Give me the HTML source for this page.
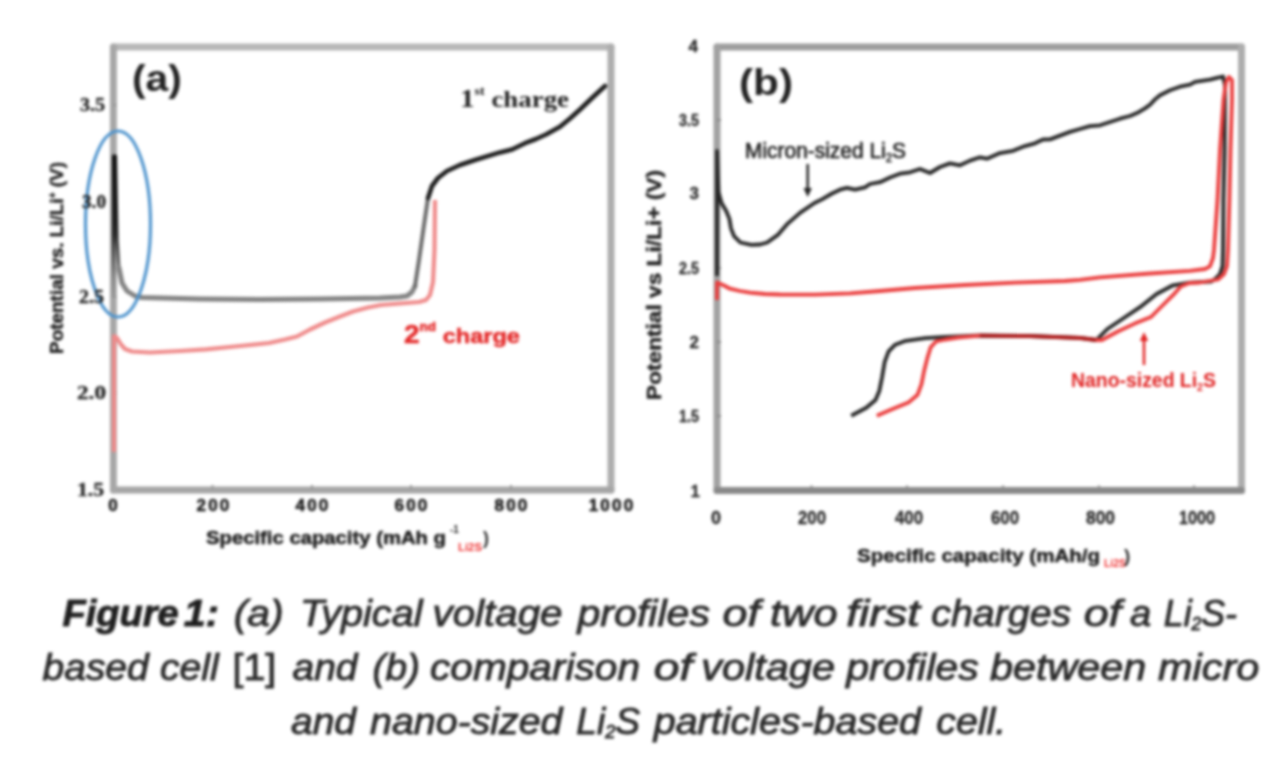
<!DOCTYPE html>
<html><head><meta charset="utf-8">
<style>
html,body{margin:0;padding:0;background:#fff;}
body{width:1280px;height:761px;overflow:hidden;position:relative;font-family:"Liberation Sans",sans-serif;}
svg{position:absolute;left:0;top:0;filter:blur(1.5px);}
</style></head>
<body>
<svg width="1280" height="761" viewBox="0 0 1280 761" font-family="Liberation Sans, sans-serif">
<!-- ===== Panel (a) ===== -->
<g fill="none" stroke-width="7" stroke-linecap="round">
<path d="M113.4,47 H611" stroke="#b7b7b7"/>
<path d="M611,47 V490" stroke="#adadad"/>
<path d="M113.4,490 H611" stroke="#a5a5a5"/>
<path d="M113.4,47 V490" stroke="#a7a7a7"/>
</g>
<g stroke="#999" stroke-width="2">
<path d="M212.5,489v-4M312,489v-4M411,489v-4M511,489v-4M113,105h4M113,201h4M113,297h4M113,393h4"/>
</g>
<!-- red 2nd charge -->
<path fill="none" stroke="#ef8a8a" stroke-width="4.2" stroke-linejoin="round" d="M114,452 L114,336 L117,338 L121,344.5 L125,349 L132,351.5 L150,352.5 L180,351 L206,349.3 L240,346 L269,343 L285,339.5 L297,336.5 L310,329.5 L325,322.5 L340,316.5 L353,311.5 L368,307.5 L381,305 L400,303.5 L419,302 L426,300 L430,295 L433,282 L434.5,250 L435,200"/>
<defs>
<linearGradient id="spk" x1="0" y1="155" x2="0" y2="300" gradientUnits="userSpaceOnUse">
<stop offset="0" stop-color="#111"/><stop offset="0.55" stop-color="#222"/><stop offset="0.85" stop-color="#888"/><stop offset="1" stop-color="#999"/>
</linearGradient>
</defs>
<!-- black 1st charge -->
<path fill="none" stroke="url(#spk)" stroke-width="3.2" stroke-linejoin="round" d="M113.5,298 L113.5,156 L115.5,156 L117,240 L119,268"/>
<path fill="none" stroke="#838383" stroke-width="5" stroke-linejoin="round" stroke-linecap="round" d="M119,268 L122,283 L127,291 L135,296 L142,297.5 L200,299 L260,299.5 L320,299 L380,298 L400,297 L407,296 L412,292 L415,286"/>
<path fill="none" stroke="#6a6a6a" stroke-width="4" stroke-linejoin="round" stroke-linecap="round" d="M415,286 L419,260 L424,225 L428,198"/>
<path fill="none" stroke="#1e1e1e" stroke-width="4.6" stroke-linejoin="round" stroke-linecap="round" d="M428,198 L432,186 L438,178 L447,171 L460,165 L475,160 L500,152.4 L512,149.5 L525,143.2 L536,139 L546,134.5 L560,126.7 L570,118.5 L580,109.5 L592,98 L605,86"/>
<!-- blue ellipse -->
<ellipse cx="118" cy="224" rx="32.5" ry="93" fill="none" stroke="#4f94cd" stroke-width="3.2"/>
<!-- labels -->
<text x="132" y="91" font-size="37" font-weight="bold" fill="#222" textLength="50" lengthAdjust="spacingAndGlyphs">(a)</text>
<g font-family="Liberation Serif, serif" font-weight="bold" font-size="19" fill="#262626" stroke="#262626" stroke-width="0.4" text-anchor="end">
<text x="105" y="111" textLength="25" lengthAdjust="spacingAndGlyphs">3.5</text>
<text x="106" y="208" textLength="24" lengthAdjust="spacingAndGlyphs">3.0</text>
<text x="104" y="303" textLength="25" lengthAdjust="spacingAndGlyphs">2.5</text>
<text x="106" y="399" textLength="29" lengthAdjust="spacingAndGlyphs">2.0</text>
<text x="104" y="496" textLength="27" lengthAdjust="spacingAndGlyphs">1.5</text>
</g>
<g font-weight="bold" font-size="17" fill="#161616" stroke="#161616" stroke-width="0.5" text-anchor="middle" letter-spacing="2.2">
<text x="114" y="511">0</text>
<text x="214" y="511">200</text>
<text x="313" y="511">400</text>
<text x="412" y="511">600</text>
<text x="512" y="511">800</text>
<text x="612" y="511">1000</text>
</g>
<text x="206" y="544" font-size="18" font-weight="bold" fill="#1e1e1e" stroke="#1e1e1e" stroke-width="0.5" textLength="240" lengthAdjust="spacingAndGlyphs">Specific capacity (mAh g</text>
<text x="450" y="533" font-size="10" font-weight="bold" fill="#2a2a2a">-1</text>
<text x="458" y="551" font-size="10" font-weight="bold" fill="#e33" textLength="24" lengthAdjust="spacingAndGlyphs">Li2S</text>
<text x="483" y="544" font-size="18" font-weight="bold" fill="#2a2a2a">)</text>
<text transform="translate(63,258) rotate(-90)" font-size="19" font-weight="bold" fill="#1e1e1e" stroke="#1e1e1e" stroke-width="0.4" text-anchor="middle" textLength="192" lengthAdjust="spacingAndGlyphs">Potential vs. Li/Li<tspan font-size="10" dy="-7">+</tspan><tspan dy="7"> (V)</tspan></text>
<text x="460" y="107" font-family="Liberation Serif, serif" font-size="23" font-weight="bold" fill="#222" textLength="109" lengthAdjust="spacingAndGlyphs"><tspan font-size="25">1</tspan><tspan font-size="12" dy="-12">st</tspan><tspan dy="12"> charge</tspan></text>
<text x="404" y="342.5" font-size="21" font-weight="bold" fill="#e42a2a" stroke="#e42a2a" stroke-width="0.5" textLength="116" lengthAdjust="spacingAndGlyphs"><tspan font-size="25">2</tspan><tspan font-size="12" dy="-12">nd</tspan><tspan dy="12"> charge</tspan></text>

<!-- ===== Panel (b) ===== -->
<g fill="none" stroke-width="7" stroke-linecap="round">
<path d="M717,47 H1241.5" stroke="#9d9d9d"/>
<path d="M1241.5,47 V490.5" stroke="#adadad"/>
<path d="M717,47 V490.5" stroke="#a1a1a1"/>
<path d="M717,490.5 H1241.5" stroke="#898989"/>
</g>
<g stroke="#888" stroke-width="2">
<path d="M811.5,489.5v-4M907,489.5v-4M1003,489.5v-4M1099,489.5v-4M1194,489.5v-4M717,120h4M717,194h4M717,268h4M717,342h4M717,416h4"/>
</g>
<!-- black -->
<path fill="none" stroke="#262626" stroke-width="3.8" stroke-linejoin="round" d="M717,276 L717,151 L717.8,175 L718.5,192 L721.5,203 L726.2,211 L729.4,218.9 L731,228.3 L734,236.2 L740.4,242.5 L751.4,244.9 L760,244.5 L767.2,242.5 L778.2,234.6 L787.7,223.6 L800.3,212.6 L814.5,203 L822.4,199.1 L832,193.5 L840,189.7 L847,187.8 L855,189.7 L865,187.3 L870,184 L880,182.2 L890,177.5 L900,173.7 L910,172.3 L920,169 L930,173 L940,167 L950,163.4 L960,165.3 L970,160.6 L980,157.3 L987,158.7 L1000,153.1 L1013,150.8 L1025,146.1 L1035,143.3 L1043,139.5 L1050,139.4 L1060,135.6 L1070,131.9 L1080,129 L1090,126.2 L1100,125.3 L1110,122 L1120,118.7 L1130,116 L1137,113.1 L1145,108.4 L1150,104.7 L1155,99.4 L1160,95.2 L1170,90.2 L1180,86.7 L1190,84.6 L1195,81.8 L1200,81.1 L1210,79.7 L1217,77.9 L1223,76.5 L1225,85 L1225,100 L1224.6,150 L1223.4,200 L1223,250 L1222.5,266 L1220,274 L1215,279 L1211.3,281.5 L1189.4,282.6 L1173,285.3 L1156.6,294 L1140,307.2 L1123.8,318 L1107.4,329 L1096.4,340 L1080,337.8 L1030,336 L980,335.5 L945.2,336.8 L925.4,338.1 L905.7,340.8 L895.2,344.7 L888.6,351.3 L884.7,361.8 L882,377.6 L879.4,390.7 L875.5,400 L866.3,407.8 L851.2,415.7"/>
<!-- red -->
<path fill="none" stroke="#ea3c3c" stroke-width="3.8" stroke-linejoin="round" d="M717,300 L717,282.5 L724,285.5 L730,288.7 L740,291 L750,292.7 L765,294 L780,294.5 L815,294.7 L850,293.4 L880,291 L915,288 L965,285 L1015,282.7 L1065,281 L1080,279.8 L1100,277.4 L1150,273.5 L1190,270.8 L1205,269 L1210,266.4 L1213,258 L1214,250 L1217.5,200 L1220,150 L1223.5,100 L1226,82 L1229,77 L1232,80 L1232,100 L1230.5,150 L1229.4,200 L1228,250 L1227,266 L1224,274 L1218,279.5 L1200,282.5 L1189.4,283 L1180.7,286.4 L1173,295.2 L1162,306 L1151,317 L1134.7,323.6 L1118.3,331.3 L1101.9,340 L1096,340"/>
<path fill="none" stroke="#b01818" stroke-width="3.8" stroke-linejoin="round" d="M1096,340 L1080,338 L1030,336.2 L980,335.7"/>
<path fill="none" stroke="#ea3c3c" stroke-width="3.8" stroke-linejoin="round" d="M980,335.7 L958.3,337.5 L945.2,339.5 L936,341.4 L930.7,347.3 L927.4,357.9 L924.1,371 L921.5,384.2 L917.6,394.7 L908.4,402.6 L892.6,409.1 L876.8,415.7"/>
<!-- arrows -->
<path d="M807.7,164 V190" stroke="#222" stroke-width="2.5"/>
<path d="M803.5,188 L807.7,197 L811.9,188 Z" fill="#222"/>
<path d="M1144,365 V339" stroke="#e02020" stroke-width="2.5"/>
<path d="M1139.8,341 L1144,332 L1148.2,341 Z" fill="#e02020"/>
<!-- labels -->
<text x="739" y="95" font-size="37" font-weight="bold" fill="#222" textLength="54" lengthAdjust="spacingAndGlyphs">(b)</text>
<g font-weight="bold" font-size="17" fill="#262626" stroke="#262626" stroke-width="0.3" text-anchor="end">
<text x="698" y="52">4</text>
<text x="699" y="126" textLength="20" lengthAdjust="spacingAndGlyphs">3.5</text>
<text x="699" y="199">3</text>
<text x="699" y="274" textLength="20" lengthAdjust="spacingAndGlyphs">2.5</text>
<text x="699" y="348">2</text>
<text x="699" y="422" textLength="20" lengthAdjust="spacingAndGlyphs">1.5</text>
<text x="700" y="497">1</text>
</g>
<g font-weight="bold" font-size="18" fill="#262626" stroke="#262626" stroke-width="0.3">
<text x="711" y="524">0</text>
<text x="798" y="524" textLength="28" lengthAdjust="spacingAndGlyphs">200</text>
<text x="895" y="524" textLength="28" lengthAdjust="spacingAndGlyphs">400</text>
<text x="991" y="524" textLength="28" lengthAdjust="spacingAndGlyphs">600</text>
<text x="1086" y="524" textLength="29" lengthAdjust="spacingAndGlyphs">800</text>
<text x="1179" y="524" textLength="36" lengthAdjust="spacingAndGlyphs">1000</text>
</g>
<text x="857" y="562" font-size="19" font-weight="bold" fill="#1e1e1e" stroke="#1e1e1e" stroke-width="0.5" textLength="243" lengthAdjust="spacingAndGlyphs">Specific capacity (mAh/g</text>
<text x="1104" y="567" font-size="10" font-weight="bold" fill="#e33" textLength="22" lengthAdjust="spacingAndGlyphs">Li2S</text>
<text x="1124" y="562" font-size="19" font-weight="bold" fill="#2a2a2a">)</text>
<text transform="translate(661,285) rotate(-90)" font-size="21" font-weight="bold" fill="#1e1e1e" stroke="#1e1e1e" stroke-width="0.4" text-anchor="middle" textLength="230" lengthAdjust="spacingAndGlyphs">Potential vs Li/Li+ (V)</text>
<text x="745" y="157.5" font-size="22" fill="#1a1a1a" stroke="#1a1a1a" stroke-width="0.6" textLength="161" lengthAdjust="spacingAndGlyphs">Micron-sized Li<tspan font-size="12" dy="4">2</tspan><tspan dy="-4">S</tspan></text>
<text x="1071" y="387" font-size="20" font-weight="bold" fill="#e02020" textLength="145" lengthAdjust="spacingAndGlyphs">Nano-sized Li<tspan font-size="11" dy="4">2</tspan><tspan dy="-4">S</tspan></text>

<!-- ===== Caption ===== -->
<g font-size="37" font-style="italic" fill="#2b2b2b" stroke="#2b2b2b" stroke-width="0.9">
<text x="62.50" y="625.50" textLength="116.25" lengthAdjust="spacingAndGlyphs" font-weight="bold" fill="#1e1e1e">Figure</text>
<text x="183.75" y="625.50" textLength="35.00" lengthAdjust="spacingAndGlyphs" font-weight="bold" fill="#1e1e1e">1:</text>
<text x="233.75" y="625.50" textLength="50.00" lengthAdjust="spacingAndGlyphs">(a)</text>
<text x="300.00" y="625.50" textLength="122.50" lengthAdjust="spacingAndGlyphs">Typical</text>
<text x="432.50" y="625.50" textLength="130.00" lengthAdjust="spacingAndGlyphs">voltage</text>
<text x="577.50" y="625.50" textLength="132.50" lengthAdjust="spacingAndGlyphs">profiles</text>
<text x="722.50" y="625.50" textLength="37.50" lengthAdjust="spacingAndGlyphs">of</text>
<text x="770.00" y="625.50" textLength="67.50" lengthAdjust="spacingAndGlyphs">two</text>
<text x="846.25" y="625.50" textLength="73.75" lengthAdjust="spacingAndGlyphs">first</text>
<text x="931.25" y="625.50" textLength="140.00" lengthAdjust="spacingAndGlyphs">charges</text>
<text x="1083.75" y="625.50" textLength="37.50" lengthAdjust="spacingAndGlyphs">of</text>
<text x="1130.00" y="625.50" textLength="21.25" lengthAdjust="spacingAndGlyphs">a</text>
<text x="1163.75" y="625.50" textLength="73.25" lengthAdjust="spacingAndGlyphs">Li<tspan font-size="18" dy="4">2</tspan><tspan dy="-4">S-</tspan></text>
<text x="42.50" y="680.00" textLength="106.25" lengthAdjust="spacingAndGlyphs">based</text>
<text x="160.00" y="680.00" textLength="58.75" lengthAdjust="spacingAndGlyphs">cell</text>
<text x="232.50" y="680.00" textLength="43.75" lengthAdjust="spacingAndGlyphs" font-style="normal">[1]</text>
<text x="292.50" y="680.00" textLength="65.00" lengthAdjust="spacingAndGlyphs">and</text>
<text x="372.50" y="680.00" textLength="47.50" lengthAdjust="spacingAndGlyphs">(b)</text>
<text x="430.00" y="680.00" textLength="210.00" lengthAdjust="spacingAndGlyphs">comparison</text>
<text x="653.75" y="680.00" textLength="38.75" lengthAdjust="spacingAndGlyphs">of</text>
<text x="701.25" y="680.00" textLength="133.75" lengthAdjust="spacingAndGlyphs">voltage</text>
<text x="846.25" y="680.00" textLength="132.50" lengthAdjust="spacingAndGlyphs">profiles</text>
<text x="990.00" y="680.00" textLength="156.25" lengthAdjust="spacingAndGlyphs">between</text>
<text x="1158.00" y="680.00" textLength="101.40" lengthAdjust="spacingAndGlyphs">micro</text>
<text x="291.00" y="733.50" textLength="65.00" lengthAdjust="spacingAndGlyphs">and</text>
<text x="370.00" y="733.50" textLength="192.50" lengthAdjust="spacingAndGlyphs">nano-sized</text>
<text x="576.25" y="733.50" textLength="63.75" lengthAdjust="spacingAndGlyphs">Li<tspan font-size="18" dy="4">2</tspan><tspan dy="-4">S</tspan></text>
<text x="653.75" y="733.50" textLength="267.25" lengthAdjust="spacingAndGlyphs">particles-based</text>
<text x="936.25" y="733.50" textLength="70.00" lengthAdjust="spacingAndGlyphs">cell.</text>
</g>
</svg>
</body></html>
